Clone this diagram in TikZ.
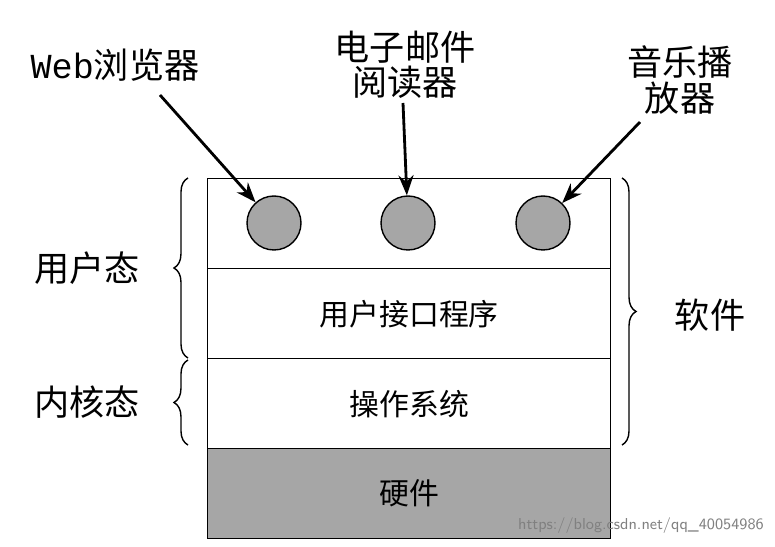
\documentclass[tikz,border=0pt]{standalone}
\usepackage{fontspec}
\setmainfont{Liberation Serif}
\newfontfamily\cjk{Noto Sans CJK SC}
\usetikzlibrary{decorations.pathreplacing,arrows.meta}
\tikzset{
  layer/.style={draw,line width=0.8pt,minimum width=8.06cm,minimum height=1.8cm,inner sep=0pt,font=\cjk\fontsize{17}{20}\selectfont},
  app/.style={circle,draw,line width=0.8pt,fill=gray!70,minimum size=1.08cm,inner sep=0pt},
  lbl/.style={font=\cjk\fontsize{20}{24}\selectfont,align=center},
  pointer/.style={-{Stealth[length=4mm,width=3mm]},line width=1.6pt},
  brace/.style={decorate,decoration={brace,amplitude=8pt},line width=0.8pt}
}
\begin{document}
\begin{tikzpicture}[x=0.02cm,y=-0.02cm]
\useasboundingbox (0,0) rectangle (775,547);
% layers
\node[layer,anchor=north west] (top) at (207,178) {};
\node[layer,anchor=north west] (ui) at (207,268) {用户接口程序};
\node[layer,anchor=north west] (os) at (207,358) {操作系统};
\node[layer,anchor=north west,fill=gray!70] (hw) at (207,448) {硬件};
% applications
\node[app] (web) at (274,223) {};
\node[app] (mail) at (408,223) {};
\node[app] (music) at (543,223) {};
\node[lbl] (webl) at (115,65) {{\ttfamily\fontspec{Liberation Mono}Web}浏览器};
\node[lbl] (maill) at (405,65) {电子邮件\\[-4pt]阅读器};
\node[lbl] (musicl) at (680,80) {音乐播\\[-4pt]放器};
\draw[pointer] (160,95) -- (web);
\draw[pointer] (403,103) -- (mail);
\draw[pointer] (640,122) -- (music);
% braces
\coordinate (bu1) at (188,358); \coordinate (bu2) at (188,178);
\coordinate (bk1) at (188,445); \coordinate (bk2) at (188,360);
\coordinate (bs1) at (622,178); \coordinate (bs2) at (622,445);
\draw[brace] (bu1) -- (bu2);
\draw[brace] (bk1) -- (bk2);
\draw[brace] (bs1) -- (bs2);
\node[lbl] (user) at (87,268) {用户态};
\node[lbl] (kernel) at (87,402) {内核态};
\node[lbl] (soft) at (710,315) {软件};
\node[anchor=south east,font=\sffamily\fontsize{9}{10}\selectfont,text=gray] (wm) at (770,540) {https://blog.csdn.net/qq\_40054986};
\end{tikzpicture}
\end{document}
